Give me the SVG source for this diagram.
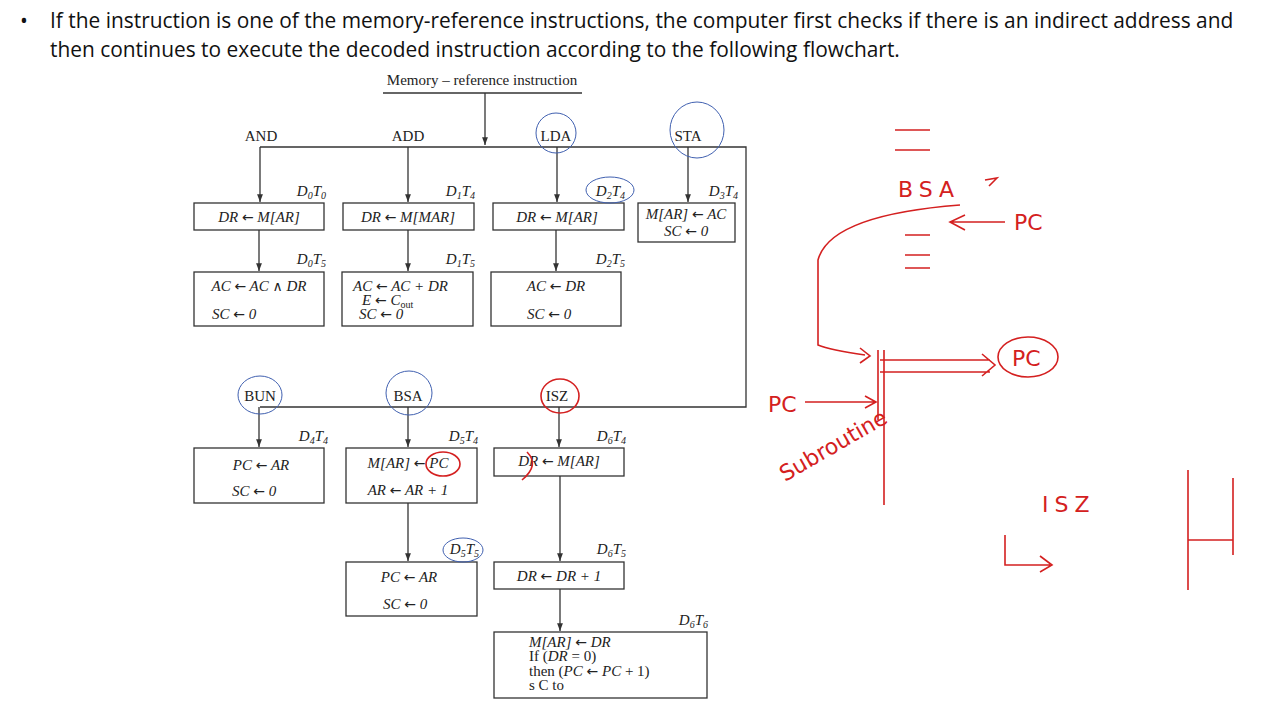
<svg xmlns="http://www.w3.org/2000/svg" width="1280" height="720" viewBox="0 0 1280 720">
<style>
.hd{font-family:"Open Sans","Liberation Sans",sans-serif;font-size:20.9px;fill:#111}
.t{font-family:"Liberation Serif",serif;font-size:15px;fill:#222}
.i{font-family:"Liberation Serif",serif;font-style:italic;font-size:15px;fill:#222}
.ar{font-family:"DejaVu Sans",sans-serif;font-style:normal;font-size:14px}
.b{fill:#fff;stroke:#333;stroke-width:1.3}
.ln{stroke:#333;stroke-width:1.3;fill:none}
.red{stroke:#d42020;stroke-width:1.6;fill:none}
.blue{stroke:#4060b0;stroke-width:1;fill:none}
.rt{font-family:"DejaVu Sans",sans-serif;fill:#d42020;font-size:22px}
</style>
<defs><marker id="a" viewBox="0 0 8 8" refX="8" refY="4" markerWidth="6" markerHeight="6" orient="auto"><path d="M0,1 L8,4 L0,7z" fill="#333"/></marker></defs>
<rect width="1280" height="720" fill="#fff"/>
<text class="hd" x="20" y="28">•</text>
<text class="hd" x="50" y="28">If the instruction is one of the memory-reference instructions, the computer first checks if there is an indirect address and</text>
<text class="hd" x="50" y="57">then continues to execute the decoded instruction according to the following flowchart.</text>
<g id="connectors">
<line class="ln" x1="383" y1="93" x2="582" y2="93"/>
<line class="ln" x1="485" y1="93" x2="485" y2="145" marker-end="url(#a)"/>
<polyline class="ln" points="260,147 746,147 746,407 260,407"/>
<line class="ln" x1="260" y1="147" x2="260" y2="202" marker-end="url(#a)"/>
<line class="ln" x1="408" y1="147" x2="408" y2="202" marker-end="url(#a)"/>
<line class="ln" x1="557" y1="147" x2="557" y2="202" marker-end="url(#a)"/>
<line class="ln" x1="688" y1="147" x2="688" y2="202" marker-end="url(#a)"/>
<line class="ln" x1="259" y1="230" x2="259" y2="271" marker-end="url(#a)"/>
<line class="ln" x1="408" y1="230" x2="408" y2="271" marker-end="url(#a)"/>
<line class="ln" x1="556" y1="230" x2="556" y2="271" marker-end="url(#a)"/>
<line class="ln" x1="259" y1="407" x2="259" y2="447" marker-end="url(#a)"/>
<line class="ln" x1="408" y1="407" x2="408" y2="447" marker-end="url(#a)"/>
<line class="ln" x1="559" y1="407" x2="559" y2="447" marker-end="url(#a)"/>
<line class="ln" x1="408" y1="503" x2="408" y2="561" marker-end="url(#a)"/>
<line class="ln" x1="560" y1="476" x2="560" y2="561" marker-end="url(#a)"/>
<line class="ln" x1="560" y1="589" x2="560" y2="631" marker-end="url(#a)"/>
</g>
<text class="t" x="482" y="85" text-anchor="middle">Memory – reference instruction</text>
<g id="labels" class="t" text-anchor="middle">
<text x="261" y="141">AND</text><text x="408" y="141">ADD</text><text x="556" y="141">LDA</text><text x="688" y="141">STA</text>
<text x="260" y="401">BUN</text><text x="408" y="401">BSA</text><text x="557" y="401">ISZ</text>
</g>
<g id="and1"><rect class="b" x="194" y="203" width="130" height="27"/><text class="i" x="326" y="196" text-anchor="end">D<tspan font-size="10" dy="3">0</tspan><tspan dy="-3">T</tspan><tspan font-size="10" dy="3">0</tspan></text><text class="i" x="259" y="222" text-anchor="middle">DR <tspan class="ar">←</tspan> M[AR]</text></g>
<g id="add1"><rect class="b" x="343" y="203" width="131" height="27"/><text class="i" x="475" y="196" text-anchor="end">D<tspan font-size="10" dy="3">1</tspan><tspan dy="-3">T</tspan><tspan font-size="10" dy="3">4</tspan></text><text class="i" x="408" y="222" text-anchor="middle">DR <tspan class="ar">←</tspan> M[MAR]</text></g>
<g id="lda1"><rect class="b" x="493" y="203" width="131" height="27"/><text class="i" x="625" y="196" text-anchor="end">D<tspan font-size="10" dy="3">2</tspan><tspan dy="-3">T</tspan><tspan font-size="10" dy="3">4</tspan></text><text class="i" x="557" y="222" text-anchor="middle">DR <tspan class="ar">←</tspan> M[AR]</text></g>
<g id="sta1"><rect class="b" x="638" y="203" width="97" height="39"/><text class="i" x="738" y="196" text-anchor="end">D<tspan font-size="10" dy="3">3</tspan><tspan dy="-3">T</tspan><tspan font-size="10" dy="3">4</tspan></text><text class="i" x="686" y="219" text-anchor="middle" font-size="13">M[AR] <tspan class="ar" font-size="12">←</tspan> AC</text><text class="i" x="686" y="236" text-anchor="middle" font-size="13">SC <tspan class="ar" font-size="12">←</tspan> 0</text></g>
<g id="and2"><rect class="b" x="194" y="272" width="130" height="54"/><text class="i" x="326" y="264" text-anchor="end">D<tspan font-size="10" dy="3">0</tspan><tspan dy="-3">T</tspan><tspan font-size="10" dy="3">5</tspan></text><text class="i" x="259" y="291" text-anchor="middle">AC <tspan class="ar">←</tspan> AC <tspan class="ar">∧</tspan> DR</text><text class="i" x="212" y="319">SC <tspan class="ar">←</tspan> 0</text></g>
<g id="add2"><rect class="b" x="342" y="272" width="131" height="54"/><text class="i" x="475" y="264" text-anchor="end">D<tspan font-size="10" dy="3">1</tspan><tspan dy="-3">T</tspan><tspan font-size="10" dy="3">5</tspan></text><text class="i" x="353" y="291">AC <tspan class="ar">←</tspan> AC + DR</text><text class="i" x="362" y="305">E <tspan class="ar">←</tspan> C<tspan font-size="10" font-style="normal" dy="3">out</tspan></text><text class="i" x="359" y="319">SC <tspan class="ar">←</tspan> 0</text></g>
<g id="lda2"><rect class="b" x="491" y="272" width="130" height="54"/><text class="i" x="625" y="264" text-anchor="end">D<tspan font-size="10" dy="3">2</tspan><tspan dy="-3">T</tspan><tspan font-size="10" dy="3">5</tspan></text><text class="i" x="556" y="291" text-anchor="middle">AC <tspan class="ar">←</tspan> DR</text><text class="i" x="549" y="319" text-anchor="middle">SC <tspan class="ar">←</tspan> 0</text></g>
<g id="bun"><rect class="b" x="194" y="448" width="130" height="55"/><text class="i" x="328" y="441" text-anchor="end">D<tspan font-size="10" dy="3">4</tspan><tspan dy="-3">T</tspan><tspan font-size="10" dy="3">4</tspan></text><text class="i" x="261" y="470" text-anchor="middle">PC <tspan class="ar">←</tspan> AR</text><text class="i" x="254" y="496" text-anchor="middle">SC <tspan class="ar">←</tspan> 0</text></g>
<g id="bsa1"><rect class="b" x="346" y="448" width="131" height="55"/><text class="i" x="478" y="441" text-anchor="end">D<tspan font-size="10" dy="3">5</tspan><tspan dy="-3">T</tspan><tspan font-size="10" dy="3">4</tspan></text><text class="i" x="408" y="468" text-anchor="middle">M[AR] <tspan class="ar">←</tspan> PC</text><text class="i" x="408" y="495" text-anchor="middle">AR <tspan class="ar">←</tspan> AR + 1</text></g>
<g id="isz1"><rect class="b" x="494" y="448" width="130" height="28"/><text class="i" x="626" y="441" text-anchor="end">D<tspan font-size="10" dy="3">6</tspan><tspan dy="-3">T</tspan><tspan font-size="10" dy="3">4</tspan></text><text class="i" x="559" y="466" text-anchor="middle">DR <tspan class="ar">←</tspan> M[AR]</text></g>
<g id="bsa2"><rect class="b" x="346" y="562" width="131" height="54"/><text class="i" x="479" y="554" text-anchor="end">D<tspan font-size="10" dy="3">5</tspan><tspan dy="-3">T</tspan><tspan font-size="10" dy="3">5</tspan></text><text class="i" x="409" y="582" text-anchor="middle">PC <tspan class="ar">←</tspan> AR</text><text class="i" x="405" y="609" text-anchor="middle">SC <tspan class="ar">←</tspan> 0</text></g>
<g id="isz2"><rect class="b" x="494" y="562" width="130" height="27"/><text class="i" x="626" y="554" text-anchor="end">D<tspan font-size="10" dy="3">6</tspan><tspan dy="-3">T</tspan><tspan font-size="10" dy="3">5</tspan></text><text class="i" x="559" y="581" text-anchor="middle">DR <tspan class="ar">←</tspan> DR + 1</text></g>
<g id="isz3"><rect class="b" x="494" y="632" width="213" height="66"/><text class="i" x="708" y="625" text-anchor="end">D<tspan font-size="10" dy="3">6</tspan><tspan dy="-3">T</tspan><tspan font-size="10" dy="3">6</tspan></text>
<text class="t" x="529" y="647"><tspan font-style="italic">M[AR] </tspan><tspan class="ar">←</tspan><tspan font-style="italic"> DR</tspan></text><text class="t" x="529" y="661">If (<tspan font-style="italic">DR</tspan> = 0)</text><text class="t" x="529" y="676">then (<tspan font-style="italic">PC </tspan><tspan class="ar">←</tspan><tspan font-style="italic"> PC</tspan> + 1)</text><text class="t" x="529" y="690">s C to</text></g>
<g id="annotations">
<ellipse class="blue" cx="556" cy="133" rx="20" ry="20"/><ellipse class="blue" cx="697" cy="130" rx="27" ry="28"/>
<ellipse class="blue" cx="260" cy="395" rx="22" ry="19"/><ellipse class="blue" cx="409" cy="393" rx="23" ry="22"/>
<ellipse class="red" cx="560" cy="396" rx="19" ry="17"/><ellipse class="red" cx="443" cy="464" rx="17" ry="12"/>
<path class="red" d="M527,452 Q540,465 522,480"/>
<ellipse class="blue" cx="610" cy="190" rx="24" ry="13"/><ellipse class="blue" cx="463" cy="550" rx="20" ry="12"/>
<path class="red" d="M895,130 H930 M895,150 H930"/>
<text class="rt" x="898" y="197" font-size="34" letter-spacing="6">BSA</text>
<path class="red" d="M985,180 l12,-2 -8,8"/>
<path class="red" d="M950,222 H1005 M965,215 L950,222 965,230"/>
<text class="rt" x="1014" y="230" font-size="28">PC</text>
<path class="red" d="M905,235 H930 M905,255 H930 M905,268 H930"/>
<path class="red" d="M960,205 Q830,215 818,260 V345 Q830,350 865,355 M860,348 L870,356 860,363"/>
<path class="red" d="M878,350 V420 M884,350 V505"/>
<path class="red" d="M880,360 H990 M880,372 H990 M982,354 L995,365 982,376"/>
<ellipse class="red" cx="1028" cy="357" rx="30" ry="20"/>
<text class="rt" x="1012" y="366" font-size="24">PC</text>
<text class="rt" x="768" y="412" font-size="20">PC</text>
<path class="red" d="M805,402 H875 M865,396 L876,402 865,408"/>
<text class="rt" x="785" y="482" font-size="18" transform="rotate(-30 785 482)">Subroutine</text>
<text class="rt" x="1042" y="512" font-size="28" letter-spacing="6">ISZ</text>
<path class="red" d="M1005,535 V565 H1050 M1040,556 L1052,565 1040,572"/>
<path class="red" d="M1188,470 V590 M1233,478 V555 M1188,540 H1233"/>
</g>
</svg>
